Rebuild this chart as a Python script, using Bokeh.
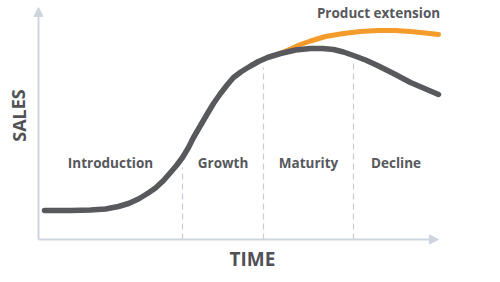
from bokeh.plotting import figure
from bokeh.models import Range1d, Arrow, NormalHead, ColumnDataSource
from bokeh.core.properties import value
from bokeh.embed import file_html
from bokeh.resources import INLINE

# Product life cycle: time (0-100) vs sales
time_main = [1.5, 8, 13, 16.75, 20, 22.5, 25, 27.25, 29.25, 31.25, 33, 34.5, 36, 37.5,
             38.75, 40.5, 42.25, 43.75, 45.5, 47.25, 48.75, 50.75, 53, 55, 57.25, 60.5,
             64.25, 68, 71, 73.75, 76.25, 78.75, 81.75, 84.75, 88.75, 93, 96.5, 100]
sales_main = [14.5, 14.5, 14.75, 15.25, 16.5, 18, 20.25, 23, 25.75, 29.5, 33.5, 37, 41, 46,
              51, 57, 63, 68, 73, 77.5, 81, 84, 86.75, 89, 91, 93,
              94.75, 95.5, 95.5, 95, 93.75, 92, 89.75, 87, 83, 78.5, 75.5, 72.5]

time_ext = [60.5, 63, 65.5, 68, 71.75, 76.25, 80.5, 84.75, 89.25, 93, 96.75, 100]
sales_ext = [93, 95.25, 97.5, 99.25, 101.5, 103, 104, 104.5, 104.5, 104, 103.25, 102.5]

stages = ["Introduction", "Growth", "Maturity", "Decline"]
stage_bounds = [0, 36, 56.25, 78.75, 100]
divider_tops = [36, 86, 88.5]

ext_label = "Product extension"
x_title = "TIME"
y_title = "SALES"

FONT = value("Open Sans")
TXT = "#56585c"
AXIS = "#cfd5de"

p = figure(width=500, height=282, output_backend="svg", toolbar_location=None,
           x_range=Range1d(-9.5, 115.5), y_range=Range1d(-21.5, 119.5),
           min_border=0, outline_line_color=None, background_fill_color="white",
           border_fill_color="white")
p.xaxis.visible = False
p.yaxis.visible = False
p.grid.visible = False

# dashed stage dividers
div_x = stage_bounds[1:4]
p.segment(x0=div_x, y0=[0] * 3, x1=div_x, y1=divider_tops,
          line_color="#c7ccd5", line_width=1.2, line_dash="6 4")

# axes with arrowheads
p.add_layout(Arrow(x_start=0, y_start=0, x_end=0, y_end=116,
                   line_color=AXIS, line_width=2,
                   end=NormalHead(size=9, fill_color=AXIS, line_color=AXIS)))
p.add_layout(Arrow(x_start=0, y_start=0, x_end=100, y_end=0,
                   line_color=AXIS, line_width=2,
                   end=NormalHead(size=9, fill_color=AXIS, line_color=AXIS)))

# curves
p.line(time_ext, sales_ext, line_color="#f59b2b", line_width=5,
       line_cap="round", line_join="round")
p.line(time_main, sales_main, line_color="#58595d", line_width=5.5,
       line_cap="round", line_join="round")

# stage labels
mid = [(stage_bounds[i] + stage_bounds[i + 1]) / 2 for i in range(len(stages))]
src = ColumnDataSource(dict(x=mid, y=[38.5] * len(stages), t=stages))
p.text(x="x", y="y", text="t", source=src, text_font=FONT, text_font_style="bold",
       text_font_size="13.5px", text_color=TXT, text_align="center", text_baseline="middle")

p.text(x=[85], y=[113.5], text=[ext_label], text_font=FONT, text_font_style="bold",
       text_font_size="13.5px", text_color=TXT, text_align="center", text_baseline="middle")
p.text(x=[53.5], y=[-9.5], text=[x_title], text_font=FONT, text_font_style="bold",
       text_font_size="19px", text_color="#505256", text_align="center", text_baseline="middle")
p.text(x=[-5], y=[62], text=[y_title], angle=1.5708, text_font=FONT, text_font_style="bold",
       text_font_size="18px", text_color="#505256", text_align="center", text_baseline="middle")

open("out.html", "w").write(file_html(p, INLINE))
